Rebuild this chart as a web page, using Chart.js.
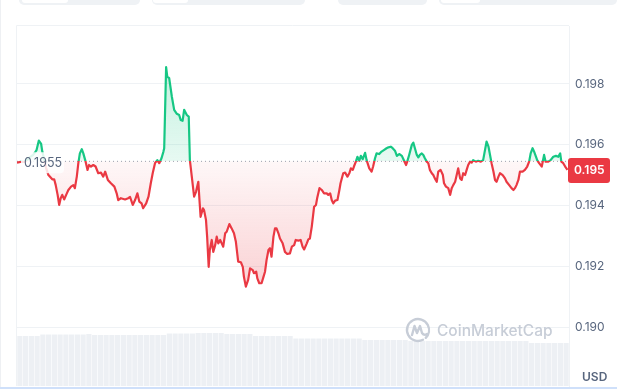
<!DOCTYPE html>
<html lang="en">
<head>
<meta charset="UTF-8">
<title>Price chart</title>
<script src="https://cdn.jsdelivr.net/npm/chart.js@4.4.0/dist/chart.umd.min.js"></script>
<style>
body{margin:0;background:#fff;width:617px;height:389px;overflow:hidden;position:relative;font-family:Inter,sans-serif}
#chart{position:absolute;left:0;top:0}
.tab{position:absolute;top:0;height:5px;background:#eff2f5;border-radius:0 0 5px 5px}
.tab i{position:absolute;top:0;height:3px;background:#fff;border-radius:0 0 4px 4px}
.edge{position:absolute;left:0;top:0;width:1px;height:389px;background:#eef0f3}
.foot{position:absolute;left:0;bottom:0;width:617px;height:2px;background:#cfe0fa}
</style>
</head>
<body>
<canvas id="chart" width="617" height="389"></canvas>
<div class="edge"></div>
<div class="tab" style="left:19px;width:121px"><i style="left:3px;width:46px"></i></div>
<div class="tab" style="left:152px;width:153px"><i style="left:1px;width:35px"></i></div>
<div class="tab" style="left:338px;width:89px"></div>
<div class="tab" style="left:439px;width:178px"><i style="left:2px;width:39px"></i></div>
<div class="foot"></div>
<script>
// minutes since start of the 24h window
const times = [0,12,18,26,34,42,48,51,57,63,66,70,76,82,92,97,101,106,110,114,118,123,130,134,141,147,151,156,160,164,
169,173,179,184,188,193,199,205,212,219,225,230,237,245,254,260,264,271,282,290,295,302,308,314,319,325,329,337,343,349,
354,360,366,371,377,382,384,389,392,397,404,410,417,423,427,432,436,443,448,451,456,462,467,473,476,479,485,488,493,496,
500,503,508,512,517,521,525,530,534,538,543,547,554,560,566,571,577,584,589,592,597,603,608,615,618,624,627,632,638,643,
647,651,656,660,664,669,673,677,682,686,693,699,705,712,717,723,727,734,740,745,749,756,760,764,769,775,780,783,789,795,
801,808,812,817,821,825,830,836,841,844,851,856,862,867,871,876,879,884,888,893,897,902,908,912,919,925,929,934,938,945,
951,957,964,969,975,980,986,991,997,1004,1008,1015,1018,1023,1030,1034,1038,1043,1047,1051,1056,1060,1064,1069,1073,1077,1082,1086,1090,1095,
1099,1105,1111,1114,1119,1125,1130,1134,1138,1143,1147,1151,1156,1160,1164,1169,1173,1177,1182,1186,1190,1197,1203,1210,1216,1225,1230,1234,1238,1243,
1247,1251,1256,1260,1267,1273,1277,1284,1290,1295,1299,1303,1308,1312,1319,1325,1331,1336,1340,1345,1349,1354,1357,1362,1369,1375,1379,1386,1392,1399,
1406,1412,1417,1420,1425,1430,1436];

const prices = [0.19542,0.19545,0.19544,0.19550,0.19560,0.19567,0.19577,0.19583,0.19614,0.19603,0.19578,0.19557,0.19524,0.19501,0.19487,0.19487,0.19468,0.19436,0.19403,0.19425,
0.19436,0.19421,0.19441,0.19452,0.19463,0.19468,0.19458,0.19496,0.19540,0.19572,0.19586,0.19572,0.19545,0.19518,0.19534,0.19529,0.19534,0.19529,0.19507,0.19509,
0.19496,0.19512,0.19485,0.19474,0.19463,0.19441,0.19419,0.19425,0.19421,0.19425,0.19429,0.19403,0.19419,0.19441,0.19414,0.19408,0.19392,0.19408,0.19430,0.19474,
0.19507,0.19540,0.19550,0.19540,0.19556,0.19578,0.19589,0.19855,0.19824,0.19819,0.19758,0.19715,0.19702,0.19698,0.19682,0.19679,0.19715,0.19698,0.19693,0.19550,
0.19496,0.19430,0.19446,0.19479,0.19419,0.19364,0.19392,0.19386,0.19354,0.19299,0.19200,0.19255,0.19288,0.19249,0.19271,0.19299,0.19277,0.19288,0.19277,0.19266,
0.19310,0.19315,0.19340,0.19326,0.19310,0.19282,0.19217,0.19215,0.19200,0.19167,0.19135,0.19157,0.19195,0.19189,0.19179,0.19184,0.19162,0.19146,0.19146,0.19167,
0.19184,0.19222,0.19255,0.19261,0.19233,0.19299,0.19326,0.19326,0.19310,0.19293,0.19277,0.19249,0.19242,0.19244,0.19266,0.19271,0.19288,0.19286,0.19288,0.19266,
0.19257,0.19277,0.19290,0.19293,0.19332,0.19397,0.19403,0.19425,0.19458,0.19452,0.19441,0.19441,0.19436,0.19441,0.19419,0.19408,0.19417,0.19419,0.19452,0.19474,
0.19507,0.19509,0.19496,0.19507,0.19523,0.19518,0.19529,0.19545,0.19561,0.19548,0.19564,0.19553,0.19574,0.19550,0.19523,0.19512,0.19529,0.19556,0.19572,0.19570,
0.19578,0.19583,0.19589,0.19592,0.19594,0.19589,0.19581,0.19564,0.19570,0.19564,0.19553,0.19534,0.19545,0.19567,0.19600,0.19607,0.19589,0.19567,0.19559,0.19567,
0.19572,0.19567,0.19556,0.19545,0.19540,0.19518,0.19507,0.19501,0.19490,0.19479,0.19512,0.19518,0.19501,0.19474,0.19463,0.19458,0.19436,0.19458,0.19468,0.19479,
0.19501,0.19523,0.19490,0.19485,0.19507,0.19501,0.19518,0.19534,0.19545,0.19542,0.19550,0.19545,0.19548,0.19545,0.19550,0.19611,0.19594,0.19567,0.19540,0.19512,
0.19485,0.19479,0.19496,0.19507,0.19501,0.19490,0.19479,0.19468,0.19458,0.19452,0.19458,0.19468,0.19485,0.19512,0.19512,0.19518,0.19529,0.19545,0.19572,0.19589,
0.19578,0.19561,0.19550,0.19540,0.19529,0.19567,0.19545,0.19545,0.19550,0.19561,0.19564,0.19561,0.19572,0.19545,0.19540,0.19529,0.19518];

// 24h volume, millions, one bar per 15 minutes
const volumes = [5.0,5.0,5.0,5.0, 5.15,5.15,5.15,5.15,5.15,5.15,5.15,5.15, 5.2,
5.1,5.1,5.1,5.1,5.1,5.1,5.1,5.1,5.1,5.1,5.1,5.1,5.1, 5.25,5.25,5.25,5.25,5.25, 5.3,5.3,5.3,5.3,5.3,
5.2,5.2,5.2,5.2,5.2, 5.0,5.0,5.0,5.0,5.0,5.0,5.0, 4.75,4.75,4.75,4.75,4.75,4.75,4.75,4.75,4.75,4.75,4.75,4.75,
4.6,4.6,4.6,4.6,4.6,4.6,4.6,4.6, 4.5,4.5,4.5,4.5,4.5,4.5,4.5,4.5,4.5,4.5,4.5,4.5,4.5,4.5,4.5,4.5,4.5,4.5,4.5,4.5,4.5,
4.3,4.3,4.3,4.3,4.3,4.3,4.3];

const yTicks = [0.190, 0.192, 0.194, 0.196, 0.198];
const openPrice = 0.19546;

const green = '#16c784';
const red = '#ea3943';
const txt = '#58667e';

function splitGrad(chart, topCol, baseUp, baseDown, bottomCol) {
    const a = chart.chartArea;
    if (!a) return bottomCol;
    const yb = chart.scales.y.getPixelForValue(openPrice);
    const s = Math.min(1, Math.max(0, (yb - a.top) / (a.bottom - a.top)));
    const g = chart.ctx.createLinearGradient(0, a.top, 0, a.bottom);
    g.addColorStop(0, topCol);
    g.addColorStop(s, baseUp);
    g.addColorStop(s, baseDown);
    g.addColorStop(1, bottomCol);
    return g;
}

function roundRect(ctx, x, y, w, h, r) {
    ctx.beginPath();
    ctx.moveTo(x + r, y);
    ctx.arcTo(x + w, y, x + w, y + h, r);
    ctx.arcTo(x + w, y + h, x, y + h, r);
    ctx.arcTo(x, y + h, x, y, r);
    ctx.arcTo(x, y, x + w, y, r);
    ctx.closePath();
}

const extras = {
    id: 'extras',
    beforeDatasetsDraw(chart) {
        const {ctx, chartArea: a} = chart;
        ctx.save();
        ctx.strokeStyle = '#eff2f5';
        ctx.lineWidth = 1;
        ctx.beginPath();
        ctx.moveTo(a.left - 0.5, a.bottom);
        ctx.lineTo(a.left - 0.5, a.top - 0.5);
        ctx.lineTo(a.right, a.top - 0.5);
        ctx.stroke();
        ctx.restore();
    },
    afterDatasetsDraw(chart) {
        const {ctx, chartArea: a, scales} = chart;
        ctx.save();
        // watermark
        const wx = a.right - 151, wy = a.bottom - 56;
        ctx.strokeStyle = '#c7cdd7';
        ctx.lineWidth = 2.4;
        ctx.lineCap = 'round';
        ctx.lineJoin = 'round';
        ctx.beginPath();
        ctx.arc(wx, wy, 11, 0.35 * Math.PI, 2.25 * Math.PI);
        ctx.stroke();
        ctx.beginPath();
        ctx.moveTo(wx - 6, wy + 5);
        ctx.lineTo(wx - 3.5, wy - 4);
        ctx.lineTo(wx - 1, wy + 3);
        ctx.lineTo(wx + 2, wy - 4);
        ctx.lineTo(wx + 4, wy + 3);
        ctx.quadraticCurveTo(wx + 6, wy + 6, wx + 9, wy + 4);
        ctx.stroke();
        ctx.fillStyle = '#c7cdd7';
        ctx.font = '500 15.5px Inter';
        ctx.textBaseline = 'middle';
        ctx.textAlign = 'left';
        ctx.fillText('CoinMarketCap', wx + 19, wy + 1);

        // open price label on the left
        const yb = scales.y.getPixelForValue(openPrice);
        ctx.fillStyle = 'rgba(255,255,255,0.85)';
        roundRect(ctx, a.left + 4, yb - 9, 43, 21, 4);
        ctx.fill();
        ctx.fillStyle = txt;
        ctx.font = '12.5px Inter';
        ctx.fillText(openPrice.toFixed(4), a.left + 7, yb + 2);

        // last price box
        const last = prices[prices.length - 1];
        const yl = scales.y.getPixelForValue(last);
        ctx.fillStyle = red;
        roundRect(ctx, a.right - 1, yl - 12, 42, 25, 3);
        ctx.fill();
        ctx.fillStyle = '#fff';
        ctx.font = '600 12px Inter';
        ctx.fillText(last.toFixed(3), a.right + 5, yl + 1);

        // currency
        ctx.fillStyle = txt;
        ctx.font = '600 12px Inter';
        ctx.fillText('USD', a.right + 13, a.bottom - 9);
        ctx.restore();
    }
};

const ctx = document.getElementById('chart').getContext('2d');
new Chart(ctx, {
    type: 'line',
    data: {
        datasets: [{
            type: 'line',
            data: times.map((t, i) => ({x: t, y: prices[i]})),
            borderWidth: 2.2,
            borderJoinStyle: 'round',
            pointRadius: 0,
            tension: 0,
            order: 0,
            borderColor: c => splitGrad(c.chart, green, green, red, red),
            backgroundColor: c => splitGrad(c.chart, 'rgba(22,199,132,0.32)', 'rgba(22,199,132,0.1)', 'rgba(234,57,67,0.04)', 'rgba(234,57,67,0.38)'),
            fill: {target: {value: openPrice}}
        }, {
            type: 'line',
            data: [{x: 0, y: openPrice}, {x: 1440, y: openPrice}],
            borderColor: '#9aa1ad',
            borderWidth: 1,
            borderDash: [1, 3],
            pointRadius: 0,
            fill: false,
            order: 1
        }, {
            type: 'bar',
            yAxisID: 'yv',
            data: volumes.map((v, i) => ({x: i * 15 + 7.5, y: v})),
            backgroundColor: '#edf0f4',
            barPercentage: 0.9,
            categoryPercentage: 1,
            order: 2
        }]
    },
    options: {
        responsive: false,
        animation: false,
        devicePixelRatio: 1,
        layout: {padding: {left: 17, top: 26, right: 0, bottom: 3}},
        plugins: {legend: {display: false}, tooltip: {enabled: false}, filler: {drawTime: 'beforeDatasetsDraw'}},
        scales: {
            x: {type: 'linear', min: 0, max: 1440, display: false, offset: false},
            y: {
                position: 'right',
                min: 0.18809,
                max: 0.19990,
                afterBuildTicks: s => { s.ticks = yTicks.map(v => ({value: v})); },
                afterFit: s => { s.width = 48; s.paddingTop = 0; s.paddingBottom = 0; },
                grid: {color: '#eff2f5', drawTicks: false},
                border: {display: true, color: '#eff2f5'},
                ticks: {padding: 6, color: txt, font: {family: 'Inter', size: 12}, callback: v => v.toFixed(3)}
            },
            yv: {display: false, min: 0, max: 36}
        }
    },
    plugins: [extras]
});
</script>
</body>
</html>
